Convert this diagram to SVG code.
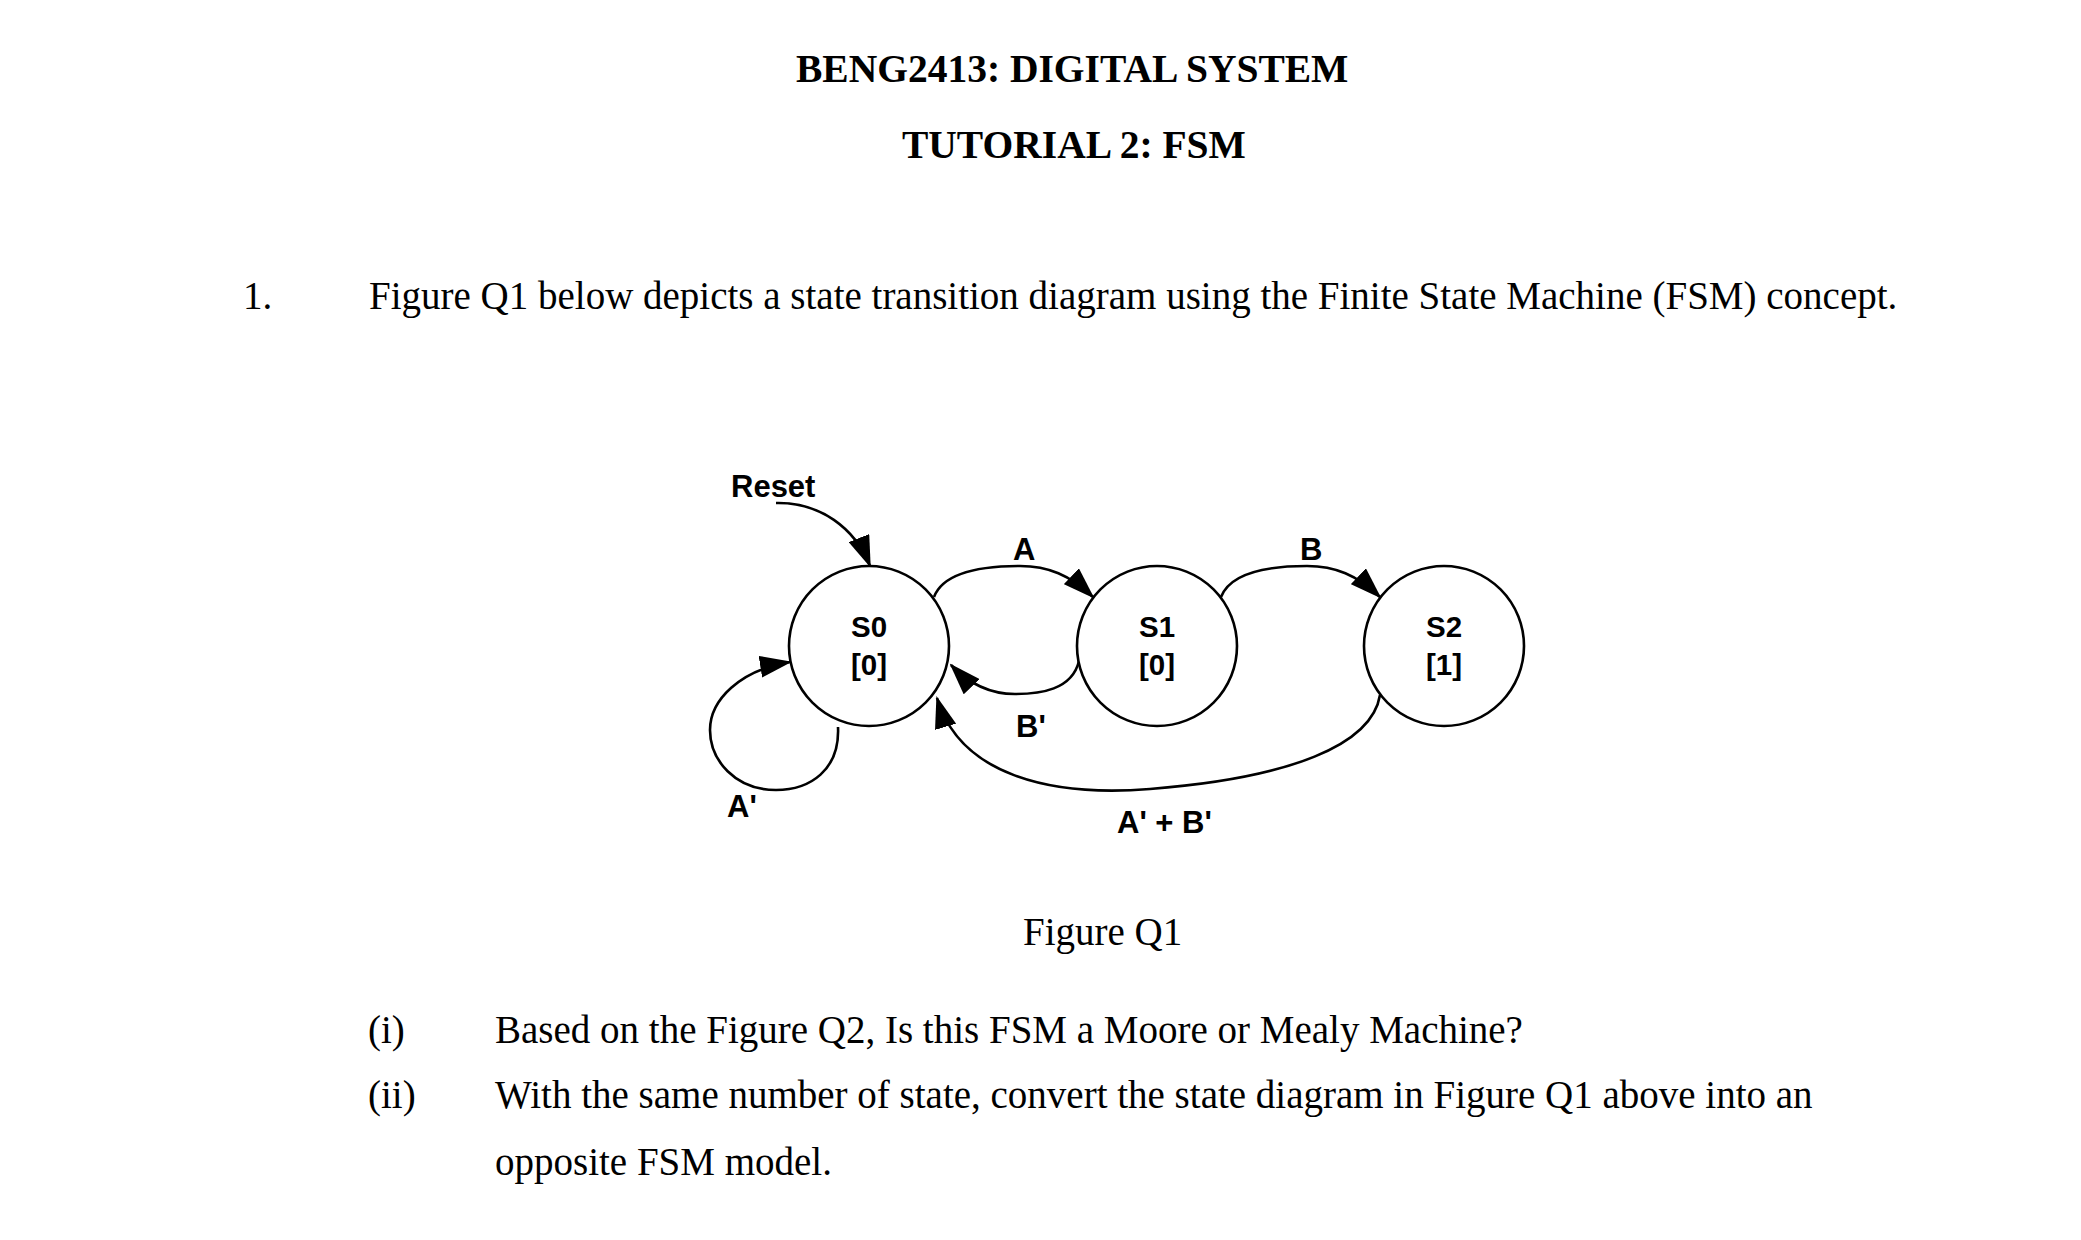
<svg xmlns="http://www.w3.org/2000/svg" width="2081" height="1240" viewBox="0 0 2081 1240">
<style>
.serif{font-family:"Liberation Serif","Times New Roman",serif;fill:#000}
.title{font-size:39.5px;font-weight:bold}
.body{font-size:39px}
.lbl{font-family:"Liberation Sans",Arial,sans-serif;font-weight:bold;font-size:31px;fill:#000}
.st{font-family:"Liberation Sans",Arial,sans-serif;font-weight:bold;font-size:29.5px;fill:#000;text-anchor:middle}
.node circle{fill:#fff;stroke:#000;stroke-width:2.6}
.edge{fill:none;stroke:#000;stroke-width:2.6;marker-end:url(#arr)}
</style>
<defs>
<marker id="arr" markerUnits="userSpaceOnUse" viewBox="0 0 32 22" markerWidth="32" markerHeight="22" refX="30" refY="11" orient="auto">
<path d="M0,0 L32,11 L0,22 z" fill="#000"/>
</marker>
</defs>
<rect width="2081" height="1240" fill="#fff"/>
<g id="header">
<text class="serif title" x="796" y="82">BENG2413: DIGITAL SYSTEM</text>
<text class="serif title" x="902" y="158">TUTORIAL 2: FSM</text>
<text class="serif body" x="243" y="309">1.</text>
<text class="serif body" x="369" y="309">Figure Q1 below depicts a state transition diagram using the Finite State Machine (FSM) concept.</text>
</g>
<g id="connectors">
<path id="e-reset" class="edge" d="M776,503 C820,502 855,528 870,566"/>
<path id="e-s0-s0" class="edge" d="M838,727 C840,770 810,790 776,790 C735,790 710,760 710,730 C710,700 740,670 790,662"/>
<path id="e-s0-s1" class="edge" d="M934,597 C945,568 995,566 1020,566 C1048,566 1070,575 1093,597"/>
<path id="e-s1-s0" class="edge" d="M1079,661 C1072,690 1040,694 1015,694 C990,694 970,685 951,665"/>
<path id="e-s1-s2" class="edge" d="M1221,597 C1232,568 1282,566 1307,566 C1335,566 1357,575 1380,597"/>
<path id="e-s2-s0" class="edge" d="M1380,695 C1372,745 1290,778 1150,789 C1050,797 960,775 937,698"/>
<text class="lbl" x="731" y="497">Reset</text>
<text class="lbl" x="727" y="817">A'</text>
<text class="lbl" x="1013" y="560">A</text>
<text class="lbl" x="1016" y="737">B'</text>
<text class="lbl" x="1300" y="560">B</text>
<text class="lbl" x="1117" y="833">A' + B'</text>
</g>
<g id="S0" class="node">
<circle cx="869" cy="646" r="80"/>
<text class="st" x="869" y="637">S0</text>
<text class="st" x="869" y="675">[0]</text>
</g>
<g id="S1" class="node">
<circle cx="1157" cy="646" r="80"/>
<text class="st" x="1157" y="637">S1</text>
<text class="st" x="1157" y="675">[0]</text>
</g>
<g id="S2" class="node">
<circle cx="1444" cy="646" r="80"/>
<text class="st" x="1444" y="637">S2</text>
<text class="st" x="1444" y="675">[1]</text>
</g>
<g id="footer">
<text class="serif body" x="1023" y="945">Figure Q1</text>
<text class="serif body" x="368" y="1043">(i)</text>
<text class="serif body" x="495" y="1043">Based on the Figure Q2, Is this FSM a Moore or Mealy Machine?</text>
<text class="serif body" x="368" y="1108">(ii)</text>
<text class="serif body" x="495" y="1108">With the same number of state, convert the state diagram in Figure Q1 above into an</text>
<text class="serif body" x="495" y="1175">opposite FSM model.</text>
</g>
</svg>
